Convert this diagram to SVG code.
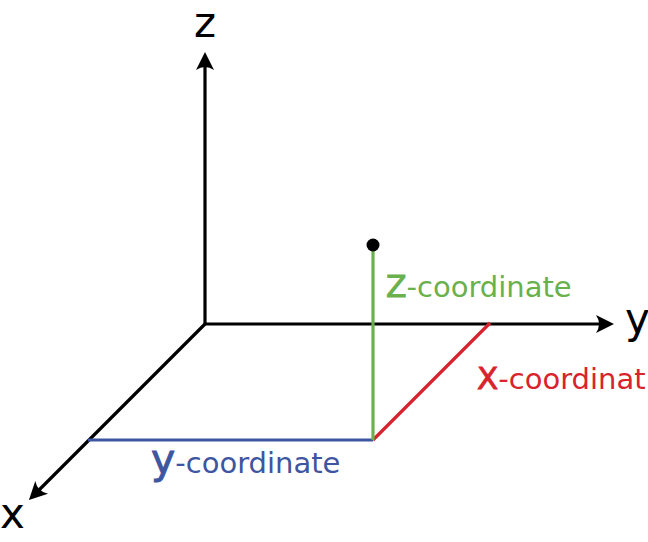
<svg xmlns="http://www.w3.org/2000/svg" width="648" height="542" viewBox="0 0 648 542">
<style>
.axis{stroke:#000;stroke-width:3.2;fill:none}
.lbl{font-family:"DejaVu Sans",sans-serif;fill:#000;font-size:42px}
.cl{font-family:"DejaVu Sans",sans-serif;font-size:29px}
.ini{stroke-width:0.9}
</style>
<defs>
<marker id="arr" markerUnits="userSpaceOnUse" markerWidth="22" markerHeight="22" viewBox="-20 -11 22 22" refX="-10" refY="0" orient="auto">
<path d="M0,0 L-18,-9 Q-12,0 -18,9 Z" fill="#000"/>
</marker>
</defs>
<rect width="648" height="542" fill="#fff"/>
<g id="connectors">
<line class="axis" x1="205" y1="324" x2="205" y2="62" marker-end="url(#arr)"/>
<line class="axis" x1="205" y1="324" x2="604" y2="324" marker-end="url(#arr)"/>
<line class="axis" x1="205" y1="324" x2="36" y2="493" marker-end="url(#arr)"/>
<line x1="88" y1="440" x2="373" y2="440" stroke="#3e55a0" stroke-width="3.2"/>
<line x1="373" y1="440" x2="490" y2="323" stroke="#d8232d" stroke-width="3.2"/>
<line x1="373" y1="245" x2="373" y2="440" stroke="#6ab04c" stroke-width="3.2"/>
</g>
<g id="point"><circle cx="373" cy="245" r="6.5" fill="#000"/></g>
<g id="label-z"><text class="lbl" x="194" y="37">z</text></g>
<g id="label-y"><text class="lbl" x="625" y="333">y</text></g>
<g id="label-x"><text class="lbl" x="0" y="528">x</text></g>
<g id="z-coordinate"><text class="cl" x="386" y="297" fill="#6ab04c"><tspan class="ini" font-size="30" stroke="#6ab04c">Z</tspan>-coordinate</text></g>
<g id="x-coordinate"><text class="cl" x="477" y="389" fill="#d8232d"><tspan class="ini" font-size="31" stroke="#d8232d">X</tspan>-coordinat</text></g>
<g id="y-coordinate"><text class="cl" x="151" y="473" fill="#3e55a0"><tspan class="ini" font-size="41" stroke="#3e55a0">y</tspan>-coordinate</text></g>
</svg>
